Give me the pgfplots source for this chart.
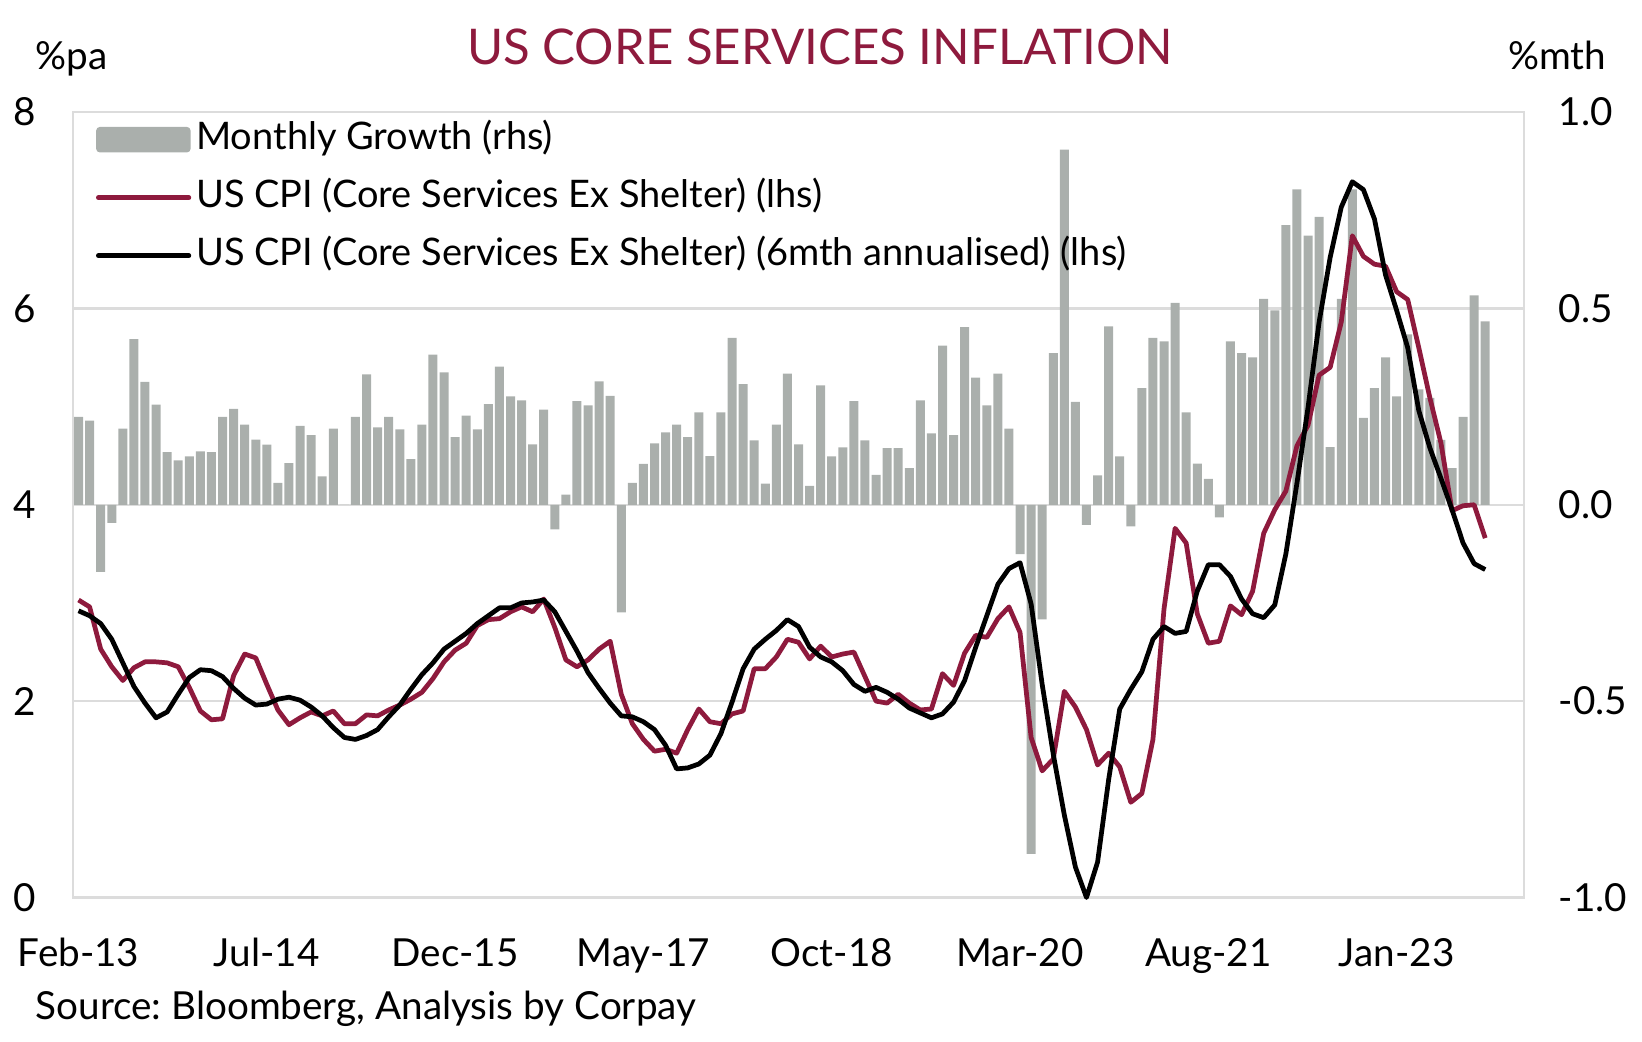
\documentclass[border=0pt]{standalone}
\usepackage{pgfplots}
\pgfplotsset{compat=1.18}
\usepackage{pgfplotstable}
\usepackage{fontspec}
\setmainfont{Lato}
\frenchspacing

\definecolor{barcol}{HTML}{AAAFAC}
\definecolor{cpired}{HTML}{8E1A3D}
\definecolor{framecol}{HTML}{DCDCDC}

% i = months since Feb-13; m = monthly growth (%mth, rhs);
% yoy = core services ex shelter (%pa, lhs); ann = 6mth annualised (%pa, lhs)
\pgfplotstableread{
i m yoy ann
0 0.224 3.03 2.92
1 0.214 2.96 2.87
2 -0.171 2.53 2.79
3 -0.046 2.35 2.63
4 0.194 2.21 2.39
5 0.422 2.34 2.15
6 0.313 2.40 1.98
7 0.255 2.40 1.83
8 0.134 2.39 1.89
9 0.113 2.35 2.07
10 0.123 2.14 2.24
11 0.136 1.90 2.32
12 0.134 1.81 2.31
13 0.224 1.82 2.25
14 0.244 2.26 2.13
15 0.204 2.48 2.03
16 0.166 2.44 1.96
17 0.153 2.17 1.97
18 0.056 1.91 2.02
19 0.106 1.76 2.04
20 0.201 1.83 2.01
21 0.177 1.89 1.94
22 0.072 1.85 1.85
23 0.194 1.90 1.73
24 0.000 1.77 1.63
25 0.224 1.77 1.61
26 0.332 1.86 1.65
27 0.197 1.85 1.71
28 0.224 1.91 1.84
29 0.192 1.96 1.96
30 0.116 2.02 2.12
31 0.204 2.09 2.27
32 0.382 2.23 2.39
33 0.337 2.40 2.53
34 0.172 2.52 2.61
35 0.227 2.59 2.69
36 0.192 2.77 2.79
37 0.256 2.83 2.87
38 0.352 2.84 2.95
39 0.276 2.91 2.95
40 0.266 2.96 3.00
41 0.154 2.91 3.01
42 0.242 3.04 3.03
43 -0.063 2.75 2.91
44 0.026 2.42 2.71
45 0.264 2.35 2.51
46 0.253 2.42 2.29
47 0.314 2.53 2.13
48 0.277 2.61 1.98
49 -0.274 2.07 1.85
50 0.056 1.77 1.84
51 0.104 1.61 1.79
52 0.156 1.49 1.71
53 0.184 1.51 1.55
54 0.204 1.47 1.31
55 0.172 1.71 1.32
56 0.235 1.92 1.36
57 0.124 1.79 1.45
58 0.235 1.77 1.67
59 0.425 1.87 1.99
60 0.307 1.90 2.33
61 0.164 2.33 2.53
62 0.054 2.33 2.63
63 0.204 2.45 2.72
64 0.334 2.63 2.83
65 0.154 2.60 2.76
66 0.048 2.43 2.55
67 0.304 2.56 2.45
68 0.123 2.45 2.40
69 0.146 2.48 2.31
70 0.264 2.50 2.17
71 0.164 2.25 2.10
72 0.076 2.00 2.14
73 0.144 1.98 2.09
74 0.144 2.07 2.02
75 0.093 1.98 1.93
76 0.266 1.91 1.88
77 0.182 1.92 1.83
78 0.405 2.28 1.87
79 0.177 2.16 1.99
80 0.452 2.49 2.21
81 0.324 2.67 2.55
82 0.253 2.65 2.87
83 0.334 2.84 3.19
84 0.194 2.96 3.35
85 -0.126 2.70 3.41
86 -0.889 1.63 2.99
87 -0.292 1.29 2.17
88 0.386 1.41 1.46
89 0.904 2.10 0.84
90 0.262 1.94 0.31
91 -0.051 1.71 0.00
92 0.075 1.35 0.36
93 0.454 1.47 1.20
94 0.123 1.33 1.92
95 -0.055 0.97 2.12
96 0.297 1.06 2.30
97 0.425 1.61 2.63
98 0.416 2.94 2.76
99 0.514 3.76 2.69
100 0.235 3.61 2.71
101 0.105 2.89 3.12
102 0.066 2.59 3.39
103 -0.032 2.61 3.39
104 0.416 2.97 3.27
105 0.386 2.88 3.04
106 0.375 3.12 2.89
107 0.524 3.71 2.85
108 0.495 3.95 2.98
109 0.712 4.14 3.50
110 0.803 4.60 4.22
111 0.685 4.81 4.99
112 0.733 5.32 5.86
113 0.147 5.40 6.52
114 0.524 5.86 7.03
115 0.803 6.74 7.29
116 0.221 6.53 7.21
117 0.297 6.45 6.91
118 0.375 6.43 6.34
119 0.276 6.17 5.98
120 0.434 6.09 5.60
121 0.294 5.60 4.96
122 0.272 5.09 4.58
123 0.165 4.63 4.27
124 0.093 3.94 3.95
125 0.224 3.99 3.61
126 0.533 4.00 3.40
127 0.467 3.66 3.34
}\cpidata

\newcommand{\lblfont}{\fontsize{11}{13}\selectfont}
\newcommand{\legfont}{\fontsize{10.8}{13}\selectfont}

\begin{document}
\begin{tikzpicture}
\useasboundingbox (-7.3mm,-14.35mm) rectangle (156.9mm,89.75mm);

% monthly growth bars on the right-hand scale, with grid and frame
\begin{axis}[
  at={(0,0)}, anchor=south west,
  width=145.1mm, height=78.55mm, scale only axis,
  xmin=-0.5, xmax=130.5, ymin=-1, ymax=1,
  axis line style={framecol, line width=0.8pt},
  ymajorgrids, grid style={framecol, line width=0.7pt},
  major tick length=0pt,
  xtick={0,17,34,51,68,85,102,119},
  xticklabels={Feb-13,Jul-14,Dec-15,May-17,Oct-18,Mar-20,Aug-21,Jan-23},
  xticklabel style={anchor=base, inner sep=0pt, yshift=-6.9mm, font=\lblfont},
  ytick={-1,-0.5,0,0.5,1},
  yticklabels={-1.0,-0.5,0.0,0.5,1.0},
  ytick pos=right, yticklabel pos=right,
  yticklabel style={anchor=west, inner sep=0pt, xshift=3.4mm, font=\lblfont},
  /pgf/number format/assume math mode=true,
]
\addplot[ybar, bar width=0.9mm, fill=barcol, draw=none] table[x=i, y=m] {\cpidata};
\end{axis}

% annual rates on the left-hand scale
\begin{axis}[
  at={(0,0)}, anchor=south west,
  width=145.1mm, height=78.55mm, scale only axis,
  xmin=-0.5, xmax=130.5, ymin=0, ymax=8,
  axis line style={draw=none},
  major tick length=0pt,
  xtick=\empty,
  ytick={0,2,4,6,8}, yticklabels={0,2,4,6,8},
  ytick pos=left,
  yticklabel style={anchor=east, inner sep=0pt, xshift=-3.6mm, font=\lblfont},
  /pgf/number format/assume math mode=true,
  clip=false,
  legend cell align=left,
  legend style={
    at={(0.01585,0.9893)}, anchor=north west,
    draw=none, fill=none, inner sep=0pt, outer sep=0pt,
    font=\legfont, row sep=1.95mm,
    nodes={inner sep=0pt, text height=2.9mm, text depth=0.95mm},
    /tikz/every odd column/.append style={column sep=0.5mm},
  },
]
\addlegendimage{legend image code/.code={\fill[barcol, rounded corners=0.3mm] (0mm,-1.2mm) rectangle (9.3mm,1.2mm);}}
\addlegendentry{Monthly Growth (rhs)}
\addplot[cpired, line width=1.35pt, line join=round,
  legend image code/.code={\draw[cpired, line width=1.35pt, line cap=round] (0.15mm,0mm) -- (9.2mm,0mm);}]
  table[x=i, y=yoy] {\cpidata};
\addlegendentry{US CPI (Core Services Ex Shelter) (lhs)}
\addplot[black, line width=1.35pt, line join=round,
  legend image code/.code={\draw[black, line width=1.35pt, line cap=round] (0.15mm,0mm) -- (9.2mm,0mm);}]
  table[x=i, y=ann] {\cpidata};
\addlegendentry{US CPI (Core Services Ex Shelter) (6mth annualised) (lhs)}
\end{axis}

\node[anchor=base, inner sep=0pt, text=cpired, font=\fontsize{14}{17}\selectfont]
  at (74.7mm,83.25mm) {US CORE SERVICES INFLATION};
\node[anchor=base west, inner sep=0pt, font=\lblfont] at (-3.8mm,82.75mm) {\%pa};
\node[anchor=base east, inner sep=0pt, font=\lblfont] at (153.4mm,82.75mm) {\%mth};
\node[anchor=base west, inner sep=0pt, font=\lblfont] at (-3.8mm,-12.15mm) {Source: Bloomberg, Analysis by Corpay};
\end{tikzpicture}
\end{document}
